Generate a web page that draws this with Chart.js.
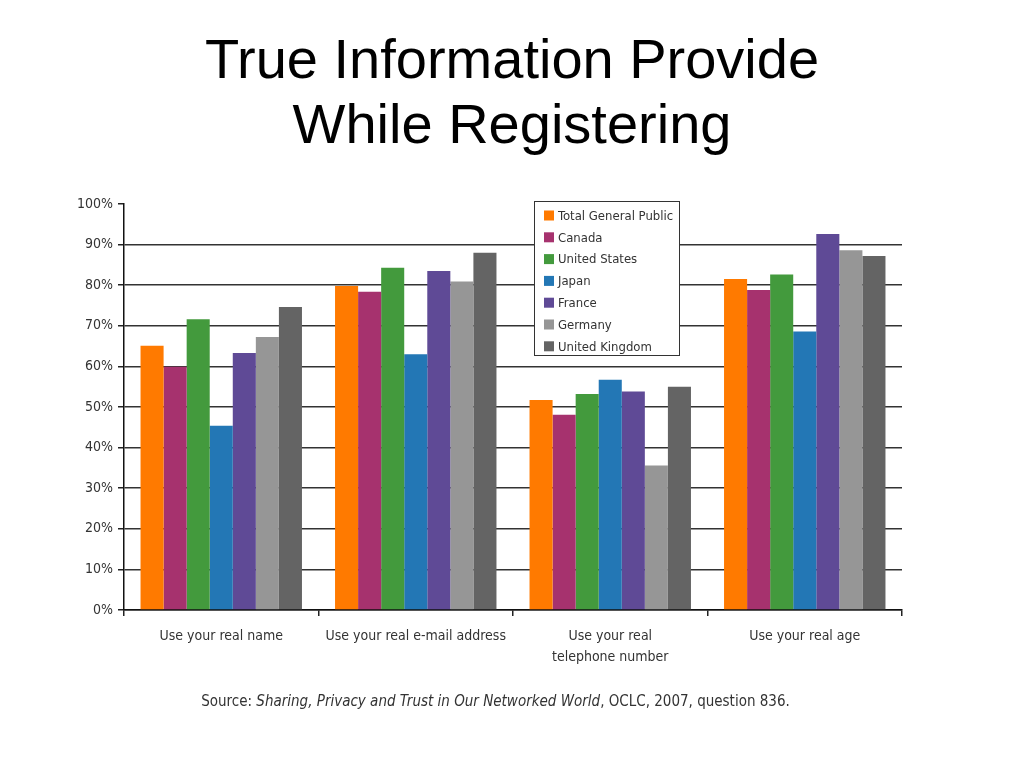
<!DOCTYPE html>
<html>
<head>
<meta charset="utf-8">
<script src="https://cdn.jsdelivr.net/npm/chart.js@4/dist/chart.umd.min.js"></script>
<style>
  body { margin: 0; background: #fff; }
  #wrap { position: relative; width: 1024px; height: 768px; }
  #source {
    position: absolute; left: 0; width: 991px; top: 692px;
    text-align: center;
    font: 15px "DejaVu Sans Condensed", "Liberation Sans Narrow", sans-serif;
    color: #333;
  }
</style>
</head>
<body>
<div id="wrap">
  <canvas id="chart" width="1024" height="768"></canvas>
  <div id="source">Source: <i>Sharing, Privacy and Trust in Our Networked World</i>, OCLC, 2007, question 836.</div>
</div>
<script>
// Categories and series
const categories = [
  "Use your real name",
  "Use your real e-mail address",
  ["Use your real", "telephone number"],
  "Use your real age"
];
const totalGeneralPublic = [65.1, 79.8, 51.7, 81.5];
const canada = [59.9, 78.4, 48.1, 78.8];
const unitedStates = [71.6, 84.3, 53.2, 82.6];
const japan = [45.4, 63.0, 56.7, 68.6];
const france = [63.3, 83.5, 53.8, 92.6];
const germany = [67.2, 80.9, 35.6, 88.6];
const unitedKingdom = [74.6, 88.0, 55.0, 87.2];

const seriesNames = ["Total General Public", "Canada", "United States", "Japan", "France", "Germany", "United Kingdom"];
const seriesValues = [totalGeneralPublic, canada, unitedStates, japan, france, germany, unitedKingdom];
const seriesColors = ["#ff7a00", "#a6326e", "#439a3d", "#2377b5", "#5f4a96", "#969696", "#646464"];

const narrow = "'DejaVu Sans Condensed', 'Liberation Sans Narrow', sans-serif";

// Boxed legend drawn inside the plot area
const boxLegend = {
  id: "boxLegend",
  afterDatasetsDraw(chart) {
    const ctx = chart.ctx;
    const x = 534, y = 201, w = 145, h = 154;
    ctx.save();
    ctx.fillStyle = "#fff";
    ctx.fillRect(x, y, w, h);
    ctx.strokeStyle = "#333";
    ctx.lineWidth = 1;
    ctx.strokeRect(x + 0.5, y + 0.5, w, h);
    ctx.font = "13px " + narrow;
    ctx.textBaseline = "middle";
    chart.data.datasets.forEach((ds, i) => {
      const cy = 215.5 + i * 21.8;
      ctx.fillStyle = ds.backgroundColor;
      ctx.fillRect(x + 10, cy - 5, 10, 10);
      ctx.fillStyle = "#333";
      ctx.fillText(ds.label, x + 24, cy + 1);
    });
    ctx.restore();
  }
};

const ctx = document.getElementById("chart").getContext("2d");
new Chart(ctx, {
  type: "bar",
  data: {
    labels: categories,
    datasets: seriesNames.map((name, i) => ({
      label: name,
      data: seriesValues[i],
      backgroundColor: seriesColors[i],
      borderWidth: 0,
      categoryPercentage: 0.83,
      barPercentage: 1.0
    }))
  },
  options: {
    responsive: false,
    animation: false,
    layout: { padding: 0 },
    plugins: {
      legend: { display: false },
      tooltip: { enabled: false },
      title: {
        display: true,
        text: ["True Information Provide", "While Registering"],
        color: "#000",
        font: { family: "'Liberation Sans', Arial, sans-serif", size: 56, weight: "normal", lineHeight: 1.16 },
        padding: { top: 30, bottom: 44 }
      }
    },
    scales: {
      x: {
        afterFit: (scale) => { scale.height = 158; },
        grid: {
          display: true,
          drawOnChartArea: false,
          offset: true,
          color: "#222",
          tickLength: 6,
          lineWidth: 1.5
        },
        border: { color: "#111", width: 1.5 },
        ticks: {
          color: "#333",
          padding: 10,
          autoSkip: false,
          maxRotation: 0,
          minRotation: 0,
          font: { family: narrow, size: 14, lineHeight: 1.5 }
        }
      },
      y: {
        min: 0,
        max: 100,
        afterFit: (scale) => { scale.width = 124; },
        grid: {
          color: (c) => (c.tick && c.tick.value === 100 ? "rgba(0,0,0,0)" : "#333"),
          tickColor: "#222",
          tickLength: 6,
          lineWidth: 1.5
        },
        border: { color: "#111", width: 1.5 },
        ticks: {
          stepSize: 10,
          color: "#333",
          padding: 5,
          font: { family: narrow, size: 14 },
          callback: (v) => v + "%"
        }
      },
      // empty right-hand spacer so the plot ends at x=902 while the title stays centred
      spacer: {
        position: "right",
        axis: "y",
        afterFit: (scale) => { scale.width = 122; },
        grid: { display: false },
        border: { display: false },
        ticks: { display: false }
      }
    }
  },
  plugins: [boxLegend]
});
</script>
</body>
</html>
